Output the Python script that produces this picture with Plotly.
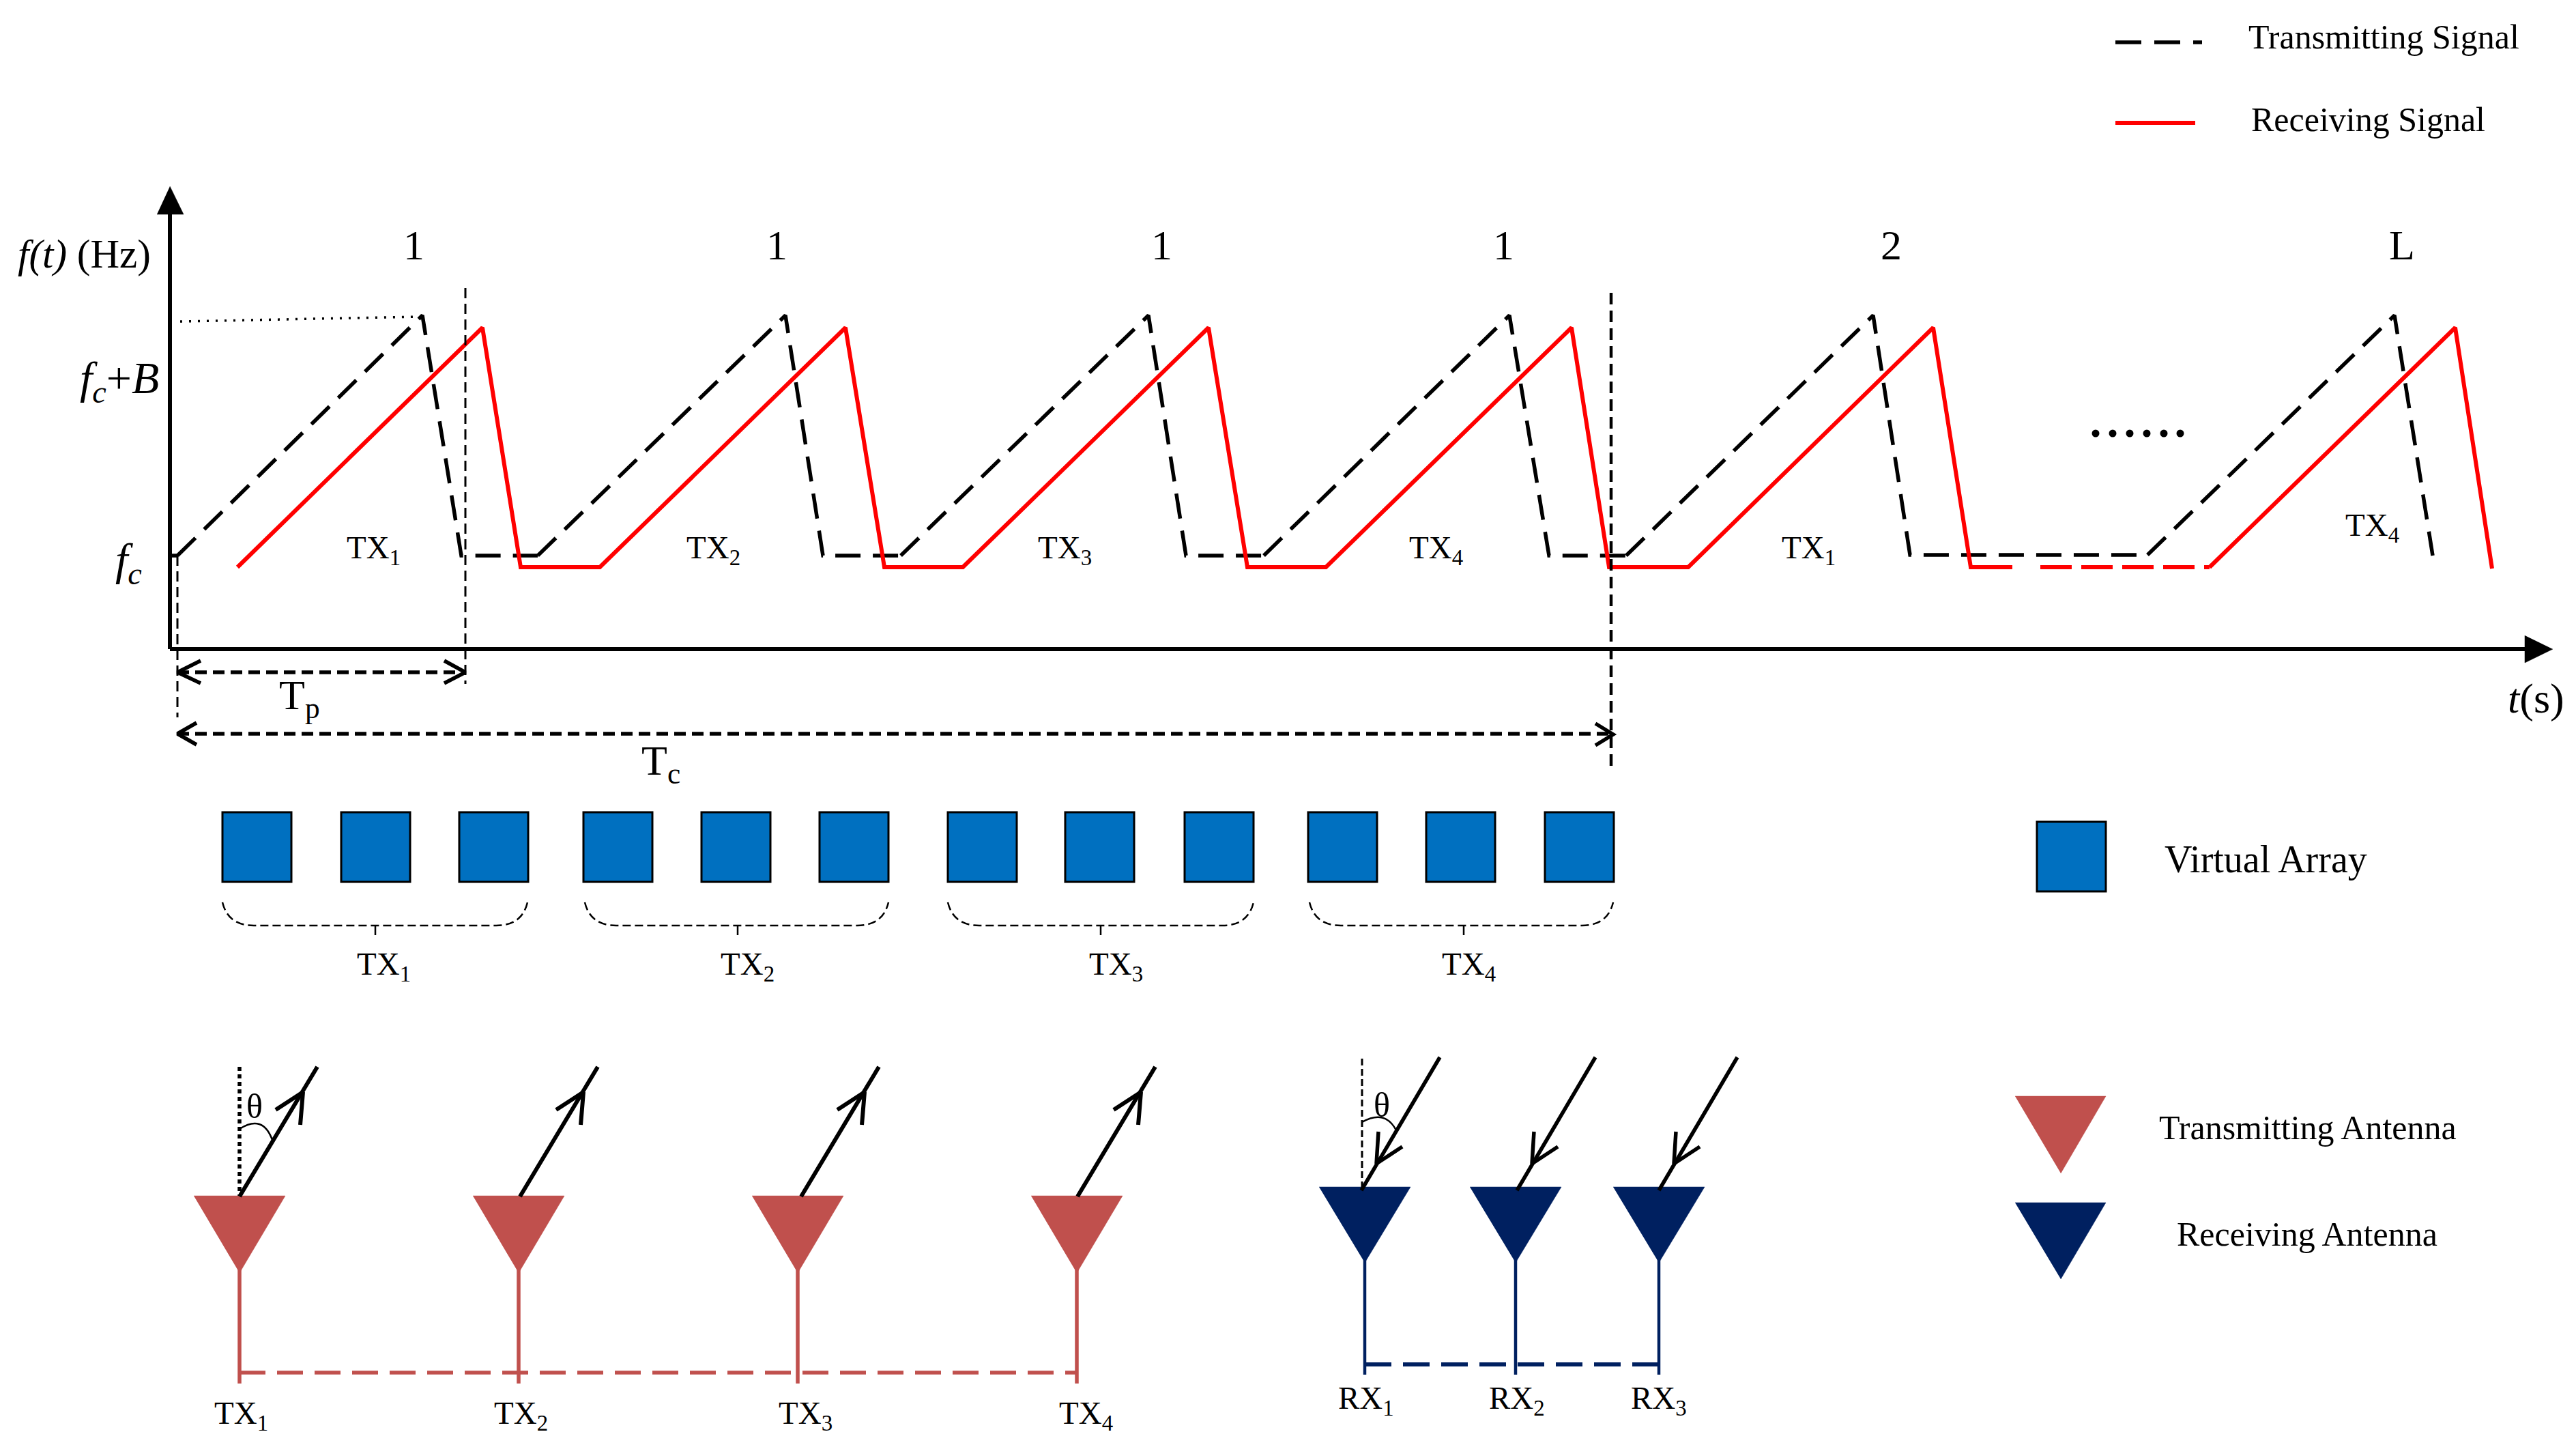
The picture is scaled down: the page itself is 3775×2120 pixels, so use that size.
import plotly.graph_objects as go

# figure works in picture pixels, y runs downward
W = 3775
H = 2120
FONT = "Liberation Serif"

BLACK = "#000000"
RED = "#FF0000"
BLUE = "#0070C0"
TX_COLOR = "#C0504D"
RX_COLOR = "#002060"

# signals
tx_x = [260, 619, 676, 788, 1151, 1206, 1320, 1683, 1738, 1852, 2212, 2270, 2383, 2745, 2799, 3147, 3509, 3565]
tx_y = [814, 462, 814, 814, 462, 814, 814, 462, 814, 814, 462, 814, 814, 462, 813, 813, 462, 814]
tx_breaks = [0, 3, 6, 9, 12, 15, 17]  # each chirp starts its dashes over
rx_x = [348, 707, 763, 879, 1239, 1296, 1411, 1771, 1828, 1943, 2303, 2358, 2474, 2833, 2888, 2949]
rx_y = [831, 480, 831, 831, 480, 831, 831, 480, 831, 831, 480, 831, 831, 480, 831, 831]
rx_gap_x = [2990, 3238]
rx_gap_y = [831, 831]
rx_last_x = [3238, 3598, 3652]
rx_last_y = [831, 480, 833]
dots_x = [3071, 3096, 3121, 3146, 3171, 3195]

# virtual array
square_left = [326, 500, 673, 855, 1028, 1201, 1389, 1561, 1736, 1917, 2090, 2264]
brace_left = [326, 857, 1389, 1919]
brace_right = [773, 1302, 1837, 2364]
brace_tick = [550, 1081, 1613, 2145]

# antennas
tx_ant_x = [351, 760, 1169, 1578]
tx_arrow_x = [351, 762, 1174, 1579]
rx_ant_x = [2000, 2221, 2431]
rx_arrow_x = [1995, 2223, 2431]

# text
period_labels = ["1", "1", "1", "1", "2", "L"]
period_x = [606, 1138, 1702, 2203, 2771, 3520]
chirp_labels = ["TX<sub>1</sub>", "TX<sub>2</sub>", "TX<sub>3</sub>", "TX<sub>4</sub>", "TX<sub>1</sub>", "TX<sub>4</sub>"]
chirp_x = [547, 1045, 1560, 2104, 2650, 3476]
chirp_y = [805, 805, 805, 805, 805, 772]
array_labels = ["TX<sub>1</sub>", "TX<sub>2</sub>", "TX<sub>3</sub>", "TX<sub>4</sub>"]
array_x = [562, 1095, 1635, 2152]
ant_labels = ["TX<sub>1</sub>", "TX<sub>2</sub>", "TX<sub>3</sub>", "TX<sub>4</sub>"]
ant_label_x = [353, 763, 1180, 1591]
rx_labels = ["RX<sub>1</sub>", "RX<sub>2</sub>", "RX<sub>3</sub>"]
rx_label_x = [2002, 2223, 2431]

fig = go.Figure()


def add_line(x, y, color=BLACK, width=5, dash=None):
    fig.add_trace(go.Scatter(x=x, y=y, mode="lines",
                             line=dict(color=color, width=width, dash=dash)))


def add_fill(x, y, color):
    fig.add_trace(go.Scatter(x=x, y=y, mode="lines", fill="toself", fillcolor=color,
                             line=dict(color=color, width=0.5)))


def add_text(text, x, y, size):
    fig.add_annotation(text=text, x=x, y=y, showarrow=False, xanchor="center", yanchor="middle",
                       font=dict(family=FONT, size=size, color=BLACK))


# axes with solid heads
add_line([249, 249], [314, 951], width=6)
add_line([249, 3705], [951, 951], width=6)
add_fill([230, 269, 249], [314, 314, 273], BLACK)
add_fill([3700, 3700, 3741], [931, 971, 951], BLACK)

# chirps
for start, end in zip(tx_breaks[:-1], tx_breaks[1:]):
    add_line(tx_x[start:end + 1], tx_y[start:end + 1], width=5.5, dash="37px,18px")
add_line(rx_x, rx_y, color=RED, width=6)
add_line(rx_gap_x, rx_gap_y, color=RED, width=6, dash="46px,14px")
add_line(rx_last_x, rx_last_y, color=RED, width=6)
fig.add_trace(go.Scatter(x=dots_x, y=[635] * len(dots_x), mode="markers",
                         marker=dict(color=BLACK, size=11)))

# guide lines and Tp, Tc spans
add_line([249, 260], [814, 814], width=5.5)
add_line([264, 614], [471, 464], width=3.5, dash="3px,10px")
add_line([260, 260], [814, 1051], width=3, dash="15px,8px")
add_line([682, 682], [422, 1002], width=3, dash="15px,8px")
add_line([2361, 2361], [429, 1126], width=4.5, dash="17px,9px")
add_line([260, 682], [985, 985], width=5.5, dash="17px,9px")
add_line([294, 260, 294], [968, 985, 1001], width=5.5)
add_line([651, 682, 651], [968, 985, 1001], width=5.5)
add_line([260, 2361], [1075, 1075], width=5.5, dash="17px,9px")
add_line([288, 260, 288], [1059, 1075, 1091], width=5.5)
add_line([2338, 2364, 2338], [1060, 1076, 1092], width=5.5)

# top legend
add_line([3100, 3227], [62, 62], width=5.5, dash="38px,19px")
add_line([3100, 3217], [180, 180], color=RED, width=6)

# virtual array squares
for left in square_left + [2985]:
    top = 1204 if left == 2985 else 1190
    fig.add_shape(type="rect", x0=left, x1=left + 101, y0=top, y1=top + 102,
                  fillcolor=BLUE, line=dict(color=BLACK, width=3))

for left, right, tick in zip(brace_left, brace_right, brace_tick):
    fig.add_shape(type="path",
                  path=f"M {left} 1322 Q {left + 8} 1356 {left + 46} 1356 L {right - 46} 1356 "
                       f"Q {right - 8} 1356 {right} 1322",
                  line=dict(color=BLACK, width=2.5, dash="12px,6px"))
    add_line([tick, tick], [1356, 1370], width=2.5)

# transmit antennas
add_line([351, 351], [1563, 1752], width=5.5, dash="6px,5px")
for ant, arrow in zip(tx_ant_x, tx_arrow_x):
    add_line([ant, ant], [1860, 2027], color=TX_COLOR, width=5.5)
    add_fill([ant - 67, ant + 67, ant], [1752, 1752, 1865], TX_COLOR)
    add_line([arrow, arrow + 114], [1753, 1563], width=6)
    add_line([arrow + 53, arrow + 93, arrow + 89], [1626, 1600, 1648], width=6)
add_line([351, 1578], [2011, 2011], color=TX_COLOR, width=5.5, dash="38px,17px")
fig.add_shape(type="path", path="M 351 1654 Q 385 1632 399 1670", line=dict(color=BLACK, width=2.5))
add_text("θ", 373, 1621, 50)

# receive antennas
add_line([1996, 1996], [1551, 1740], width=3, dash="10px,5px")
for ant, arrow in zip(rx_ant_x, rx_arrow_x):
    add_line([ant, ant], [1845, 2014], color=RX_COLOR, width=4.5)
    add_fill([ant - 67, ant + 67, ant], [1739, 1739, 1850], RX_COLOR)
    add_line([arrow, arrow + 115], [1744, 1549], width=5.5)
    add_line([arrow + 25, arrow + 22, arrow + 60], [1658, 1705, 1680], width=5.5)
add_line([2000, 2430], [1999, 1999], color=RX_COLOR, width=6, dash="39px,17px")
fig.add_shape(type="path", path="M 1996 1644 Q 2030 1625 2046 1656", line=dict(color=BLACK, width=2.5))
add_text("θ", 2025, 1619, 50)

# antenna legend
add_fill([2953, 3086, 3020], [1606, 1606, 1719], TX_COLOR)
add_fill([2953, 3086, 3020], [1762, 1762, 1874], RX_COLOR)

# labels
add_text("<i>f(t)</i> (Hz)", 123, 372, 59)
add_text("<i>f<sub>c</sub></i>+<i>B</i>", 175, 558, 66)
add_text("<i>f<sub>c</sub></i>", 188, 824, 66)
add_text("<i>t</i>(s)", 3716, 1023, 62)
add_text("T<sub>p</sub>", 439, 1022, 62)
add_text("T<sub>c</sub>", 968, 1118, 62)
for text, x in zip(period_labels, period_x):
    add_text(text, x, 359, 62)
for text, x, y in zip(chirp_labels, chirp_x, chirp_y):
    add_text(text, x, y, 47)
for text, x in zip(array_labels, array_x):
    add_text(text, x, 1415, 47)
for text, x in zip(ant_labels, ant_label_x):
    add_text(text, x, 2073, 47)
for text, x in zip(rx_labels, rx_label_x):
    add_text(text, x, 2051, 47)
add_text("Transmitting Signal", 3493, 54, 50)
add_text("Receiving Signal", 3470, 175, 50)
add_text("Virtual Array", 3320, 1259, 56)
add_text("Transmitting Antenna", 3382, 1652, 50)
add_text("Receiving Antenna", 3381, 1808, 50)

fig.update_layout(width=W, height=H, margin=dict(l=0, r=0, t=0, b=0),
                  paper_bgcolor="white", plot_bgcolor="white", showlegend=False,
                  xaxis=dict(range=[0, W], visible=False, fixedrange=True),
                  yaxis=dict(range=[H, 0], visible=False, fixedrange=True))

fig.write_html("out.html", post_script="document.body.style.margin='0';",
               config=dict(displayModeBar=False))
